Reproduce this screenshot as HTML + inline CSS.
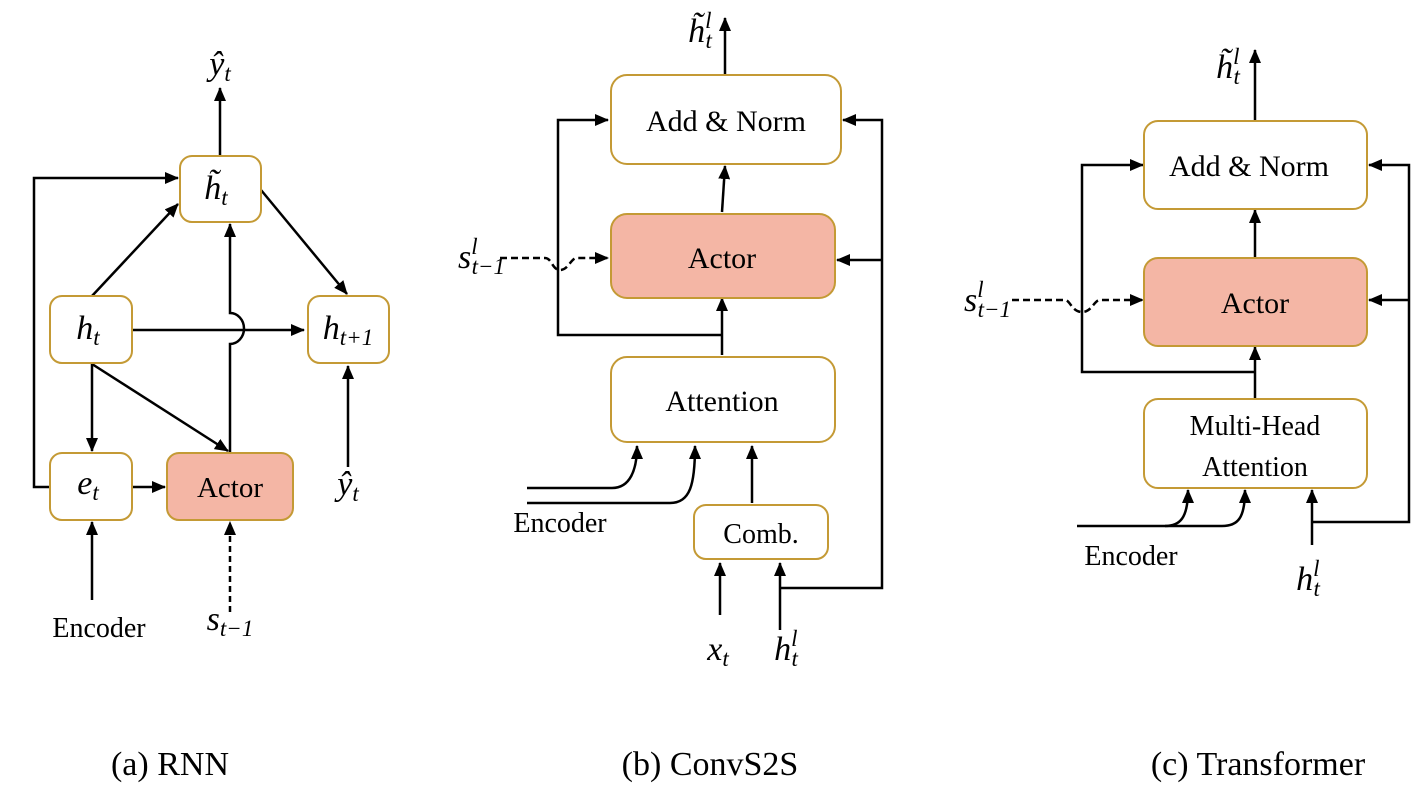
<!DOCTYPE html>
<html><head><meta charset="utf-8"><style>
html,body{margin:0;padding:0;background:#fff}
svg{display:block}
text{font-family:"Liberation Serif",serif;fill:#000}
.m{font-style:italic}
</style></head><body>
<svg width="1422" height="798" viewBox="0 0 1422 798" xmlns="http://www.w3.org/2000/svg">
<defs>
<marker id="A" markerWidth="14" markerHeight="12" refX="13" refY="6" orient="auto" markerUnits="userSpaceOnUse" viewBox="0 0 14 12">
<path d="M0,0 L14,6 L0,12 z" fill="#000"/></marker>
</defs>
<g fill="none" stroke="#000" stroke-width="2.5">
<!-- Panel a -->
<path d="M220 155 V88" marker-end="url(#A)"/>
<path d="M50 487 H34 V178 H178" marker-end="url(#A)"/>
<path d="M92 296 L178 204" marker-end="url(#A)"/>
<path d="M261 190 L347 294" marker-end="url(#A)"/>
<path d="M132 330 H304" marker-end="url(#A)"/>
<path d="M230 452 V344 A14 15.5 0 0 0 230 313 V224" marker-end="url(#A)"/>
<path d="M92 364 V451" marker-end="url(#A)"/>
<path d="M92 364 L228 451" marker-end="url(#A)"/>
<path d="M132 487 H165" marker-end="url(#A)"/>
<path d="M92 600 V522" marker-end="url(#A)"/>
<path d="M230 612 V522" stroke-dasharray="6,4" marker-end="url(#A)"/>
<path d="M348 467 V366" marker-end="url(#A)"/>
<!-- Panel b -->
<path d="M725 75 V18" marker-end="url(#A)"/>
<path d="M722 335 H558 V120 H608" marker-end="url(#A)"/>
<path d="M722 212 L725 166" marker-end="url(#A)"/>
<path d="M722 355 V298" marker-end="url(#A)"/>
<path d="M780 588 H882 V120 H843" marker-end="url(#A)"/>
<path d="M882 260 H837" marker-end="url(#A)"/>
<path d="M500 258 H545 C552 258 552 270 560 270 C568 270 570 260 576 258 H608" stroke-dasharray="7,4" marker-end="url(#A)"/>
<path d="M527 488 H612 C630 488 637 470 637 446" marker-end="url(#A)"/>
<path d="M527 503 H670 C690 503 695 485 695 446" marker-end="url(#A)"/>
<path d="M752 503 V446" marker-end="url(#A)"/>
<path d="M720 615 V563" marker-end="url(#A)"/>
<path d="M780 630 V563" marker-end="url(#A)"/>
<!-- Panel c -->
<path d="M1255 120 V50" marker-end="url(#A)"/>
<path d="M1255 372 H1082 V165 H1143" marker-end="url(#A)"/>
<path d="M1255 258 V210" marker-end="url(#A)"/>
<path d="M1255 398 V347" marker-end="url(#A)"/>
<path d="M1312 522 H1409 V165 H1369" marker-end="url(#A)"/>
<path d="M1409 300 H1369" marker-end="url(#A)"/>
<path d="M1012 300 H1065 C1070 300 1072 312 1082 312 C1092 312 1094 300 1100 300 H1143" stroke-dasharray="7,4" marker-end="url(#A)"/>
<path d="M1077 526 H1165 C1180 526 1188 518 1188 490" marker-end="url(#A)"/>
<path d="M1165 526 H1222 C1238 526 1245 518 1245 490" marker-end="url(#A)"/>
<path d="M1312 545 V490" marker-end="url(#A)"/>
</g>
<!-- boxes -->
<g stroke="#c49a35" stroke-width="2">
<rect x="180" y="156" width="81" height="66" rx="12" fill="#fff"/>
<rect x="50" y="296" width="82" height="67" rx="12" fill="#fff"/>
<rect x="308" y="296" width="81" height="67" rx="12" fill="#fff"/>
<rect x="50" y="453" width="82" height="67" rx="12" fill="#fff"/>
<rect x="167" y="453" width="126" height="67" rx="12" fill="#f4b6a5"/>
<rect x="611" y="75" width="230" height="89" rx="16" fill="#fff"/>
<rect x="611" y="214" width="224" height="84" rx="16" fill="#f4b6a5"/>
<rect x="611" y="357" width="224" height="85" rx="16" fill="#fff"/>
<rect x="694" y="505" width="134" height="54" rx="12" fill="#fff"/>
<rect x="1144" y="121" width="223" height="88" rx="14" fill="#fff"/>
<rect x="1144" y="258" width="223" height="88" rx="14" fill="#f4b6a5"/>
<rect x="1144" y="399" width="223" height="89" rx="14" fill="#fff"/>
</g>
<!-- labels -->
<g font-size="34">
<text x="220" y="75" text-anchor="middle" class="m">ŷ<tspan font-size="23" dy="6">t</tspan></text>
<text x="216" y="199" text-anchor="middle" class="m">h̃<tspan font-size="23" dy="6">t</tspan></text>
<text x="88" y="339" text-anchor="middle" class="m">h<tspan font-size="23" dy="6">t</tspan></text>
<text x="348" y="339" text-anchor="middle" class="m">h<tspan font-size="23" dy="6">t+1</tspan></text>
<text x="88" y="494" text-anchor="middle" class="m">e<tspan font-size="23" dy="6">t</tspan></text>
<text x="230" y="497" text-anchor="middle" font-size="29">Actor</text>
<text x="348" y="495" text-anchor="middle" class="m">ŷ<tspan font-size="23" dy="6">t</tspan></text>
<text x="99" y="637" text-anchor="middle" font-size="28">Encoder</text>
<text x="230" y="630" text-anchor="middle" class="m">s<tspan font-size="23" dy="6">t−1</tspan></text>

<text x="700" y="42" text-anchor="middle" class="m">h̃<tspan font-size="23" dy="-14">l</tspan><tspan font-size="23" dx="-6" dy="20">t</tspan></text>
<text x="726" y="131" text-anchor="middle" font-size="30">Add &amp; Norm</text>
<text x="722" y="268" text-anchor="middle" font-size="30">Actor</text>
<text x="722" y="411" text-anchor="middle" font-size="30">Attention</text>
<text x="761" y="543" text-anchor="middle" font-size="28">Comb.</text>
<text x="560" y="532" text-anchor="middle" font-size="28">Encoder</text>
<text x="458" y="268" class="m">s<tspan font-size="23" dy="-14">l</tspan><tspan font-size="23" dx="-6" dy="20">t−1</tspan></text>
<text x="718" y="660" text-anchor="middle" class="m">x<tspan font-size="23" dy="6">t</tspan></text>
<text x="786" y="660" text-anchor="middle" class="m">h<tspan font-size="23" dy="-14">l</tspan><tspan font-size="23" dx="-6" dy="20">t</tspan></text>

<text x="1228" y="78" text-anchor="middle" class="m">h̃<tspan font-size="23" dy="-14">l</tspan><tspan font-size="23" dx="-6" dy="20">t</tspan></text>
<text x="1249" y="176" text-anchor="middle" font-size="30">Add &amp; Norm</text>
<text x="1255" y="313" text-anchor="middle" font-size="30">Actor</text>
<text x="1255" y="435" text-anchor="middle" font-size="28">Multi-Head</text>
<text x="1255" y="476" text-anchor="middle" font-size="28">Attention</text>
<text x="1131" y="565" text-anchor="middle" font-size="28">Encoder</text>
<text x="964" y="311" class="m">s<tspan font-size="23" dy="-14">l</tspan><tspan font-size="23" dx="-6" dy="20">t−1</tspan></text>
<text x="1308" y="590" text-anchor="middle" class="m">h<tspan font-size="23" dy="-14">l</tspan><tspan font-size="23" dx="-6" dy="20">t</tspan></text>

<text x="170" y="775" text-anchor="middle" font-size="34">(a) RNN</text>
<text x="710" y="775" text-anchor="middle" font-size="34">(b) ConvS2S</text>
<text x="1258" y="775" text-anchor="middle" font-size="34">(c) Transformer</text>
</g>
</svg>
</body></html>
